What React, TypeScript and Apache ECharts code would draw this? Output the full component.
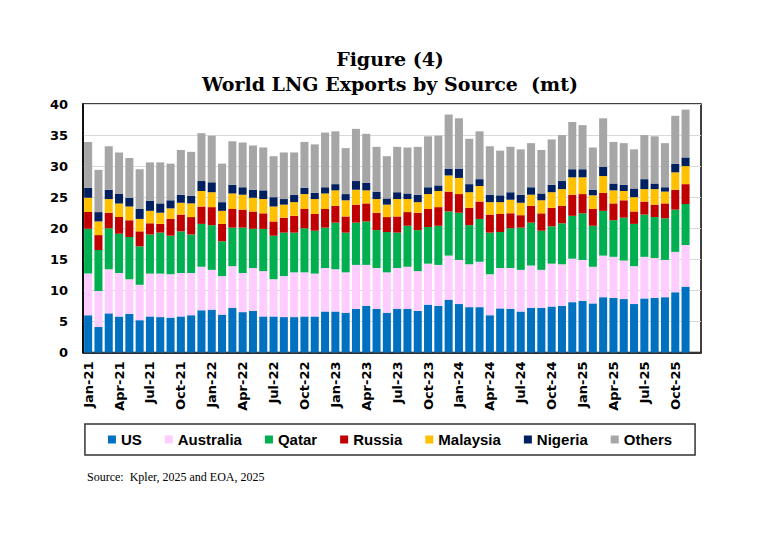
import React, { useEffect, useRef } from "react";
import * as echarts from "echarts";

const monthNames = ["Jan", "Feb", "Mar", "Apr", "May", "Jun", "Jul", "Aug", "Sep", "Oct", "Nov", "Dec"];
const years = ["21", "22", "23", "24", "25"];
const categories: string[] = [];
years.forEach((y) => monthNames.forEach((m) => categories.push(`${m}-${y}`)));

// Jan-21 .. Nov-25 (Dec-25 has no data)
const us = [6.0, 4.1, 6.3, 5.8, 6.2, 5.2, 5.8, 5.7, 5.6, 5.8, 6.0, 6.8, 6.9, 6.1, 7.2, 6.5, 6.7, 5.8, 5.8, 5.7,
  5.7, 5.8, 5.8, 6.6, 6.6, 6.4, 7.0, 7.5, 7.0, 6.4, 7.0, 7.0, 6.7, 7.7, 7.5, 8.5, 7.8, 7.3, 7.3, 6.0,
  7.1, 7.0, 6.6, 7.2, 7.2, 7.4, 7.5, 8.1, 8.3, 7.9, 8.9, 8.8, 8.6, 7.8, 8.7, 8.8, 8.9, 9.7, 10.6];
const australia = [6.7, 5.8, 7.1, 7.0, 5.6, 5.7, 6.9, 7.0, 7.0, 7.0, 6.8, 7.0, 6.4, 6.2, 6.7, 6.3, 6.9, 7.3, 6.0, 6.6,
  7.2, 7.1, 6.9, 7.0, 6.8, 6.5, 7.1, 6.6, 6.6, 6.5, 6.6, 6.8, 6.4, 6.6, 6.6, 7.1, 7.1, 6.9, 7.3, 6.6,
  6.5, 6.6, 6.7, 6.8, 6.1, 6.9, 6.7, 7.0, 6.6, 5.9, 6.7, 6.6, 6.2, 6.1, 6.7, 6.4, 6.0, 6.5, 6.7];
const qatar = [7.2, 6.6, 6.6, 6.3, 6.8, 6.2, 6.3, 6.6, 6.2, 6.7, 6.2, 6.9, 7.2, 5.6, 6.2, 7.3, 6.3, 6.8, 7.0, 7.0,
  6.4, 7.1, 6.9, 6.5, 7.5, 6.4, 6.8, 7.0, 6.1, 6.5, 5.7, 6.6, 6.6, 5.9, 6.3, 7.1, 7.6, 6.3, 6.9, 6.7,
  5.8, 6.4, 6.8, 6.9, 6.3, 6.0, 6.6, 6.9, 7.5, 6.6, 7.2, 5.9, 6.9, 6.8, 6.8, 6.6, 6.7, 6.8, 6.6];
const russia = [2.7, 2.4, 2.5, 2.7, 2.7, 2.4, 1.8, 1.4, 2.7, 2.7, 2.8, 2.8, 2.9, 2.8, 3.0, 2.9, 2.8, 2.5, 2.3, 2.4,
  2.7, 3.1, 2.7, 3.0, 2.7, 2.6, 2.9, 2.9, 2.8, 2.4, 2.6, 2.2, 2.8, 2.9, 3.0, 3.2, 3.0, 2.8, 2.8, 2.9,
  2.9, 2.4, 2.0, 2.7, 2.8, 3.0, 2.8, 3.4, 3.1, 2.7, 2.9, 2.7, 2.8, 2.0, 2.1, 2.0, 2.4, 3.2, 3.2];
const malaysia = [2.3, 2.2, 2.2, 2.2, 2.2, 2.0, 2.0, 1.8, 1.7, 1.9, 2.2, 2.5, 2.4, 2.1, 2.5, 2.4, 2.2, 2.3, 2.4, 2.1,
  2.2, 2.4, 2.4, 2.5, 2.5, 2.6, 2.4, 2.1, 2.2, 2.0, 2.8, 2.1, 1.7, 2.4, 2.6, 2.6, 2.6, 2.5, 2.5, 2.0,
  1.9, 2.2, 2.0, 1.8, 2.1, 2.5, 2.7, 2.8, 2.7, 2.2, 2.7, 2.1, 1.5, 2.3, 2.0, 2.5, 1.9, 2.8, 2.9];
const nigeria = [1.6, 1.5, 1.5, 1.5, 1.4, 1.6, 1.6, 1.5, 1.3, 1.3, 1.2, 1.6, 1.6, 1.4, 1.4, 1.2, 1.3, 1.4, 1.5, 0.9,
  1.2, 1.0, 1.0, 1.0, 1.0, 1.0, 1.4, 1.2, 1.2, 1.0, 1.1, 0.9, 1.2, 1.1, 0.9, 1.1, 1.5, 1.3, 1.1, 1.2,
  1.1, 1.2, 1.3, 1.2, 1.1, 1.2, 1.3, 1.3, 1.3, 0.9, 1.5, 1.1, 1.0, 1.4, 1.6, 0.9, 0.7, 1.4, 1.4];
const others = [7.4, 6.8, 7.0, 6.7, 6.4, 6.4, 6.2, 6.6, 5.9, 7.2, 7.1, 7.7, 7.5, 6.2, 7.0, 7.2, 7.1, 6.9, 6.6, 7.5,
  6.8, 7.4, 7.8, 8.8, 8.5, 7.4, 8.4, 7.9, 7.2, 6.8, 7.3, 7.4, 7.7, 8.2, 8.0, 8.7, 8.1, 7.3, 7.7, 7.8,
  7.2, 7.3, 7.3, 7.1, 7.0, 7.3, 7.4, 7.6, 7.1, 6.8, 7.8, 6.7, 6.7, 6.3, 7.1, 7.6, 7.1, 7.7, 7.7];

const seriesNames = ["US", "Australia", "Qatar", "Russia", "Malaysia", "Nigeria", "Others"];
const seriesData = [us, australia, qatar, russia, malaysia, nigeria, others];
const colors = ["#0070C0", "#FFCCFF", "#00B050", "#C00000", "#FFC000", "#002060", "#A6A6A6"];

export default function App() {
  const ref = useRef<HTMLDivElement>(null);
  useEffect(() => {
    if (!ref.current) return;
    const chart = echarts.init(ref.current, null, { renderer: "svg" });
    chart.setOption({
      animation: false,
      backgroundColor: "#fff",
      title: {
        text: "Figure (4)\nWorld LNG Exports by Source  (mt)",
        left: "center",
        top: 41,
        textStyle: {
          fontFamily: "DejaVu Serif",
          fontWeight: "bold",
          fontSize: 19,
          lineHeight: 25,
          color: "#000",
        },
      },
      legend: {
        data: seriesNames,
        left: "center",
        top: 424,
        icon: "rect",
        itemWidth: 8,
        itemHeight: 8,
        itemGap: 23,
        padding: [8, 23],
        borderColor: "#333",
        borderWidth: 1.5,
        textStyle: { fontFamily: "Liberation Sans", fontWeight: "bold", fontSize: 15, color: "#000" },
      },
      grid: {
        left: 83,
        right: 79,
        top: 104,
        bottom: 182.5,
        show: true,
        borderColor: "#000",
        borderWidth: 1.5,
        containLabel: false,
      },
      xAxis: {
        type: "category",
        data: categories,
        boundaryGap: true,
        axisLine: { lineStyle: { color: "#000", width: 1.5 } },
        axisTick: { interval: 2, length: 5, lineStyle: { color: "#000", width: 1 } },
        axisLabel: {
          interval: 2,
          rotate: 90,
          margin: 9,
          fontFamily: "DejaVu Sans",
          fontWeight: "bold",
          fontSize: 13,
          color: "#000",
        },
      },
      yAxis: {
        type: "value",
        min: 0,
        max: 40,
        interval: 5,
        axisLine: { show: true, lineStyle: { color: "#000", width: 1.5 } },
        axisTick: { show: false },
        splitLine: { lineStyle: { color: "#D9D9D9", width: 1 } },
        axisLabel: {
          margin: 15,
          fontFamily: "DejaVu Sans",
          fontWeight: "bold",
          fontSize: 13,
          color: "#000",
        },
      },
      series: seriesNames.map((name, i) => ({
        name,
        type: "bar",
        stack: "total",
        barCategoryGap: "22%",
        itemStyle: { color: colors[i] },
        data: seriesData[i],
      })),
      graphic: [
        {
          type: "text",
          left: 87,
          top: 471,
          style: {
            text: "Source:  Kpler, 2025 and EOA, 2025",
            fontFamily: "Liberation Serif",
            fontSize: 12,
            fill: "#000",
          },
        },
      ],
    });
    return () => chart.dispose();
  }, []);
  return <div ref={ref} style={{ position: "fixed", left: 0, top: 0, width: 780, height: 535 }} />;
}
